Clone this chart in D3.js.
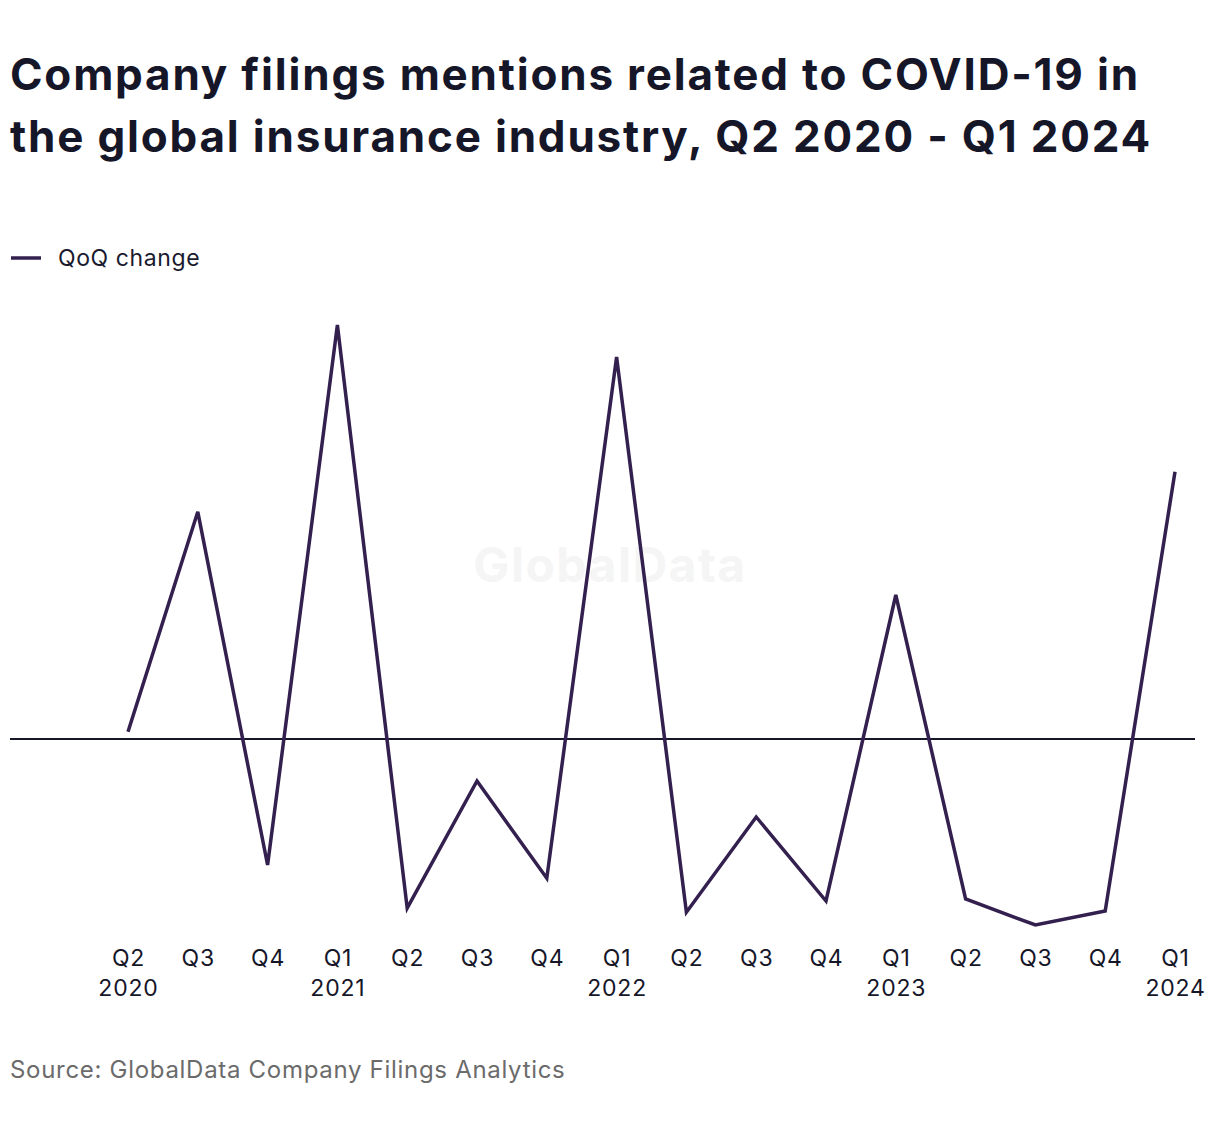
<!DOCTYPE html>
<html>
<head>
<meta charset="utf-8">
<script src="https://cdn.jsdelivr.net/npm/d3@7"></script>
<style>
  body { margin: 0; background: #fff; }
  svg { display: block; }
</style>
</head>
<body>
<svg id="chart"></svg>
<script>
// quarters and their year line (blank where no year is shown)
const quarters = ["Q2", "Q3", "Q4", "Q1", "Q2", "Q3", "Q4", "Q1", "Q2", "Q3", "Q4", "Q1", "Q2", "Q3", "Q4", "Q1"];
const years = ["2020", "", "", "2021", "", "", "", "2022", "", "", "", "2023", "", "", "", "2024"];
const keys = quarters.map((q, i) => i);
// QoQ change (%)
const qoqChange = [1.8, 56.8, -31.5, 103.5, -42.3, -10.5, -34.8, 95.5, -43.3, -19.5, -40.5, 36, -40, -46.5, -43, 66.8];

const width = 1220, height = 1126;
const font = "Inter, 'Noto Sans', sans-serif";

const svg = d3.select("#chart")
  .attr("width", width)
  .attr("height", height);

// title
const title = svg.append("text")
  .attr("x", 10)
  .attr("font-family", font)
  .attr("font-weight", 700)
  .attr("font-size", 44)
  .attr("letter-spacing", 1.8)
  .attr("fill", "#161629");
title.append("tspan").attr("x", 10).attr("y", 90).text("Company filings mentions related to COVID-19 in");
title.append("tspan").attr("x", 10).attr("y", 152).text("the global insurance industry, Q2 2020 - Q1 2024");

// legend
svg.append("line")
  .attr("x1", 11).attr("x2", 41)
  .attr("y1", 258).attr("y2", 258)
  .attr("stroke", "#33204f")
  .attr("stroke-width", 3.5);
svg.append("text")
  .attr("x", 58).attr("y", 266)
  .attr("font-family", font)
  .attr("font-size", 23)
  .attr("letter-spacing", 0.6)
  .attr("fill", "#1a1a2e")
  .text("QoQ change");

// watermark
svg.append("text")
  .attr("x", 610).attr("y", 582)
  .attr("text-anchor", "middle")
  .attr("font-family", font)
  .attr("font-weight", 700)
  .attr("font-size", 48)
  .attr("letter-spacing", 1.5)
  .attr("fill", "#f5f5f5")
  .text("GlobalData");

const x = d3.scalePoint()
  .domain(keys)
  .range([128, 1175]);

const y = d3.scaleLinear()
  .domain([-50, 105])
  .range([939, 319]);

// zero line
svg.append("line")
  .attr("x1", 10).attr("x2", 1195)
  .attr("y1", y(0)).attr("y2", y(0))
  .attr("stroke", "#161629")
  .attr("stroke-width", 2);

const line = d3.line()
  .x((d, i) => x(i))
  .y(d => y(d));

svg.append("path")
  .datum(qoqChange)
  .attr("d", line)
  .attr("fill", "none")
  .attr("stroke", "#33204f")
  .attr("stroke-width", 3.5)
  .attr("stroke-linejoin", "miter");

// x axis labels
const xAxis = svg.append("g")
  .attr("transform", "translate(0, 940)")
  .call(d3.axisBottom(x).tickSize(0).tickFormat(i => quarters[i]));
xAxis.select(".domain").remove();
xAxis.selectAll(".tick text")
  .attr("y", 0)
  .attr("dy", "26px")
  .attr("font-family", font)
  .attr("font-size", 23)
  .attr("letter-spacing", 0.8)
  .attr("fill", "#161629");
xAxis.selectAll(".tick")
  .append("text")
  .attr("y", 56)
  .attr("text-anchor", "middle")
  .attr("font-family", font)
  .attr("font-size", 23)
  .attr("letter-spacing", 0.8)
  .attr("fill", "#161629")
  .text(i => years[i]);

// source
svg.append("text")
  .attr("x", 10).attr("y", 1078)
  .attr("font-family", font)
  .attr("font-size", 24)
  .attr("letter-spacing", 0.7)
  .attr("fill", "#6b6b6b")
  .text("Source: GlobalData Company Filings Analytics");
</script>
</body>
</html>
